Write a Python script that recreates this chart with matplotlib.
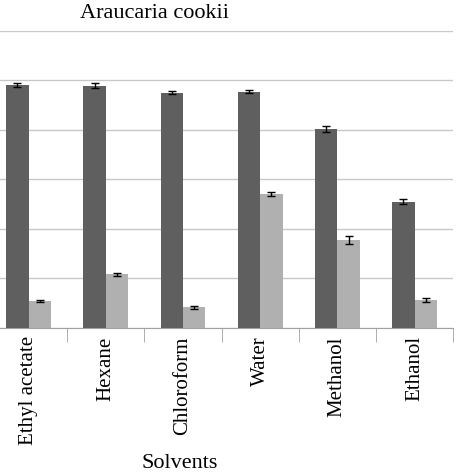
import matplotlib
matplotlib.use("Agg")
import matplotlib.pyplot as plt
import numpy as np

categories = ["Ethyl acetate", "Hexane", "Chloroform", "Water", "Methanol", "Ethanol"]
dark_vals = [98.2, 97.8, 95.0, 95.4, 80.4, 51.0]
dark_err = [0.7, 1.0, 0.6, 0.7, 1.3, 0.9]
light_vals = [11.0, 21.8, 8.4, 54.2, 35.6, 11.4]
light_err = [0.3, 0.6, 0.6, 0.9, 1.6, 0.9]

plt.rcParams['font.family'] = ['Liberation Serif', 'DejaVu Serif']
fig = plt.figure(figsize=(4.74, 4.74), dpi=100)
ax = fig.add_axes([-0.021, 0.308, 0.977, 0.627])
x = np.arange(len(categories))
w = 0.29
ek = dict(ecolor='black', elinewidth=1, capsize=3, capthick=1)
ax.bar(x - w/2, dark_vals, w, yerr=dark_err, color='#5f5f5f', error_kw=ek, zorder=3)
ax.bar(x + w/2, light_vals, w, yerr=light_err, color='#b0b0b0', error_kw=ek, zorder=3)
ax.set_ylim(0, 120)
ax.set_xlim(-0.5, len(categories) - 0.5)
ax.set_yticks(np.arange(0, 121, 20))
ax.tick_params(axis='y', left=False, labelleft=False)
ax.yaxis.grid(True, color='#c8c8c8', linewidth=1, zorder=0)
for s in ['top', 'right', 'left']:
    ax.spines[s].set_visible(False)
ax.spines['bottom'].set_color('#a0a0a0')
ax.set_xticks(x)
ax.set_xticklabels(categories, rotation=90, fontsize=15)
ax.tick_params(axis='x', length=0, pad=6)
ax.set_xticks(np.arange(len(categories)) + 0.5, minor=True)
ax.tick_params(axis='x', which='minor', length=10, color='#a0a0a0')
fig.text(0.327, 0.972, "Araucaria cookii", fontsize=16, ha='center', va='center')
fig.text(0.38, 0.023, "Solvents", fontsize=16, ha='center', va='center')
fig.savefig("out.png", dpi=100)
